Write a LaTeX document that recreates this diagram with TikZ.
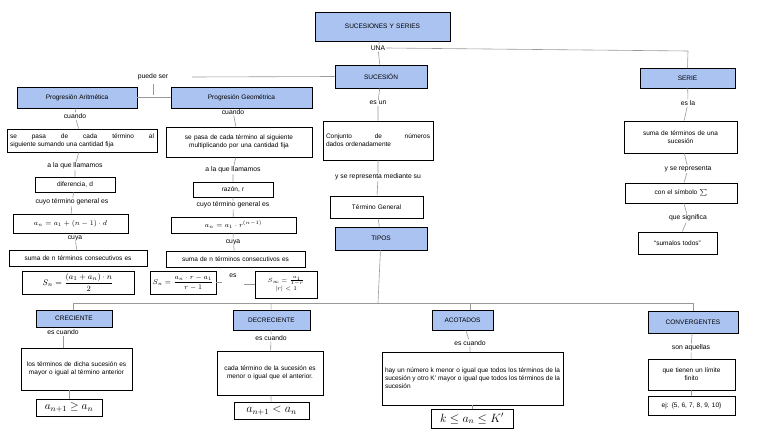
\documentclass[tikz,border=0pt]{standalone}
\usepackage{fontspec}
\setmainfont{Liberation Sans}
\usepackage{amsmath}
\hyphenpenalty=10000
\exhyphenpenalty=10000
\begin{document}
\begin{tikzpicture}[x=1pt,y=-1pt,
 frm/.style={draw=black,thick,fill=white,inner sep=1pt},
 box/.style={frm,font=\fontsize{6.5}{8}\selectfont,align=center},
 hd/.style={box,fill=blueHd},
 lbl/.style={inner sep=1pt,font=\fontsize{6.8}{8}\selectfont,fill=white},
 ln/.style={draw=gray!80,line width=0.6pt}]
\definecolor{blueHd}{RGB}{170,195,240}
\useasboundingbox (0,0) rectangle (768,433);
\newcommand{\bx}[6]{\node[#1,minimum width=#4-#2,minimum height=#5-#3,text width=#4-#2-6] (#6) at ({(#2+#4)/2},{(#3+#5)/2})}
\newcommand{\fx}[5]{\node[frm,minimum width=#3-#1,minimum height=#4-#2] (#5) at ({(#1+#3)/2},{(#2+#4)/2})}
% top
\bx{hd}{315}{12}{450}{41}{top}{SUCESIONES Y SERIES};
\node[lbl] (una) at (378,48) {UNA};
\bx{hd}{335}{65}{427}{88}{suc}{SUCESIÓN};
\bx{hd}{640}{68}{735}{88}{ser}{SERIE};
\draw[ln] (top) -- (una) -- (suc);
\draw[ln] (una.east) -- (688,51) -- (ser.north);
% sucesion
\node[lbl] (esun) at (378,103) {es un};
\bx{box,align=justify}{323}{121}{433}{160}{conj}{Conjunto de números\linebreak dados ordenadamente};
\node[lbl] (rep) at (378,177) {y se representa mediante su};
\bx{box}{330}{196}{423}{218}{tg}{Término General};
\bx{hd}{335}{227}{427}{250}{tipos}{TIPOS};
\draw[ln] (suc) -- (esun) -- (conj) -- (rep) -- (tg) -- (tipos);
% serie
\node[lbl] (esla) at (688,103) {es la};
\bx{box}{624}{121}{737}{153}{sum}{suma de términos de una\\ sucesión};
\node[lbl] (yrep) at (688,169) {y se representa};
\bx{box}{625}{183}{737}{203}{sim}{con el símbolo $\sum$};
\node[lbl] (sig) at (688,218) {que significa};
\bx{box}{638}{232}{717}{254}{sumt}{“sumalos todos”};
\draw[ln] (ser) -- (esla) -- (sum) -- (yrep) -- (sim) -- (sig) -- (sumt);
% progresiones
\node[lbl] (puede) at (153,77) {puede ser};
\bx{hd}{17}{87}{137}{108}{pa}{Progresión Aritmética};
\bx{hd}{171}{87}{312}{108}{pg}{Progresión Geométrica};
\draw[ln] (suc.west) -- (192,77);
\draw[ln] (pa.east) -- (pg.west);
\draw[ln] (153,95) -- (153,84);
\node[lbl] (c1) at (75,116) {cuando};
\bx{box,align=justify}{7}{129}{157}{152}{pa1}{se pasa de cada término al\linebreak siguiente sumando una cantidad fija};
\node[lbl] (l1) at (75,166) {a la que llamamos};
\bx{box}{35}{177}{115}{192}{pa2}{diferencia, d};
\node[lbl] (g1) at (72,202) {cuyo término general es};
\fx{13}{214}{128}{233}{pa3}{\fontsize{7}{8}\selectfont $a_n = a_1 + (n-1)\cdot d$};
\node[lbl] (cu1) at (75,238) {cuya};
\bx{box}{9}{250}{147}{266}{pa4}{suma de n términos consecutivos es};
\fx{22}{271}{134}{294}{pa5}{\fontsize{8}{9}\selectfont $S_n=\dfrac{(a_1+a_n)\cdot n}{2}$};
\draw[ln] (pa) -- (c1) -- (pa1) -- (l1) -- (pa2) -- (g1) -- (pa3) -- (cu1) -- (pa4);
\node[lbl] (c2) at (233,112) {cuando};
\bx{box}{166}{127}{312}{157}{pg1}{se pasa de cada término al siguiente multiplicando por una cantidad fija};
\node[lbl] (l2) at (233,170) {a la que llamamos};
\bx{box}{193}{182}{273}{197}{pg2}{razón, r};
\node[lbl] (g2) at (233,205) {cuyo término general es};
\fx{171}{217}{296}{233}{pg3}{\fontsize{7}{8}\selectfont $a_n = a_1\cdot r^{(n-1)}$};
\node[lbl] (cu2) at (233,242) {cuya};
\bx{box}{166}{251}{305}{267}{pg4}{suma de n términos consecutivos es};
\node[lbl] (es) at (233,276) {es};
\fx{150}{271}{216}{294}{pg5}{\fontsize{7.5}{8}\selectfont $S_n=\dfrac{a_n\cdot r-a_1}{r-1}$};
\fx{255}{271}{317}{298}{pg6}{\fontsize{6.5}{7}\selectfont $\begin{array}{c}S_\infty=\frac{a_1}{1-r}\\ |r|<1\end{array}$};
\draw[ln] (pg) -- (c2) -- (pg1) -- (l2) -- (pg2) -- (g2) -- (pg3) -- (cu2) -- (pg4);
\draw[ln] (pg5.east) -- (222,282.5);
\draw[ln] (244,284.5) -- (pg6.west);
% tipos
\coordinate (tl) at (73,303); \coordinate (tr) at (693,303);
\draw[ln] (tipos) -- (378,303);
\draw[ln] (tl) -- (tr);
\bx{hd}{36}{310}{112}{327}{cre}{CRECIENTE};
\node[lbl] (ec1) at (63,332) {es cuando};
\bx{box}{21}{348}{132}{390}{cre1}{los términos de dicha sucesión es mayor o igual al término anterior};
\fx{36}{399}{102}{416}{cre2}{\fontsize{11}{11}\selectfont $a_{n+1}\geq a_n$};
\draw[ln] (tl) -- (cre.north-|tl);
\draw[ln] (ec1) -- (ec1|-cre1.north);
\draw[ln] (cre2.north) -- (cre2.north|-cre1.south);
\bx{hd}{233}{310}{310}{330}{dec}{DECRECIENTE};
\node[lbl] (ec2) at (271,338) {es cuando};
\bx{box}{217}{351}{323}{395}{dec1}{cada término de la sucesión es menor o igual que el anterior.};
\fx{234}{402}{309}{419}{dec2}{\fontsize{12}{12}\selectfont $a_{n+1}<a_n$};
\draw[ln] (271,303) -- (dec) -- (ec2) -- (dec1) -- (dec2);
\bx{hd}{432}{310}{493}{330}{aco}{ACOTADOS};
\node[lbl] (ec3) at (470,343) {es cuando};
\bx{box,align=justify}{382}{352}{563}{405}{aco1}{hay un número k menor o igual que todos los términos de la sucesión y otro K' mayor o igual que todos los términos de la sucesión};
\fx{431}{409}{513}{428}{aco2}{\fontsize{12}{12}\selectfont $k\leq a_n\leq K'$};
\draw[ln] (470,303) -- (470,310);
\draw[ln] (aco) -- (ec3) -- (aco1.north-|ec3);
\draw[ln] (aco1.south-|aco2.north) -- (aco2.north);
\bx{hd}{648}{311}{738}{333}{con}{CONVERGENTES};
\node[lbl] (sa) at (691,348) {son aquellas};
\bx{box}{648}{359}{735}{390}{con1}{que tienen un límite\\ finito};
\bx{box}{648}{396}{735}{415}{con2}{ej: \{5, 6, 7, 8, 9, 10\}};
\draw[ln] (tr) -- (con.north-|tr);
\draw[ln] (con) -- (sa) -- (con1) -- (con2);
\end{tikzpicture}
\end{document}
